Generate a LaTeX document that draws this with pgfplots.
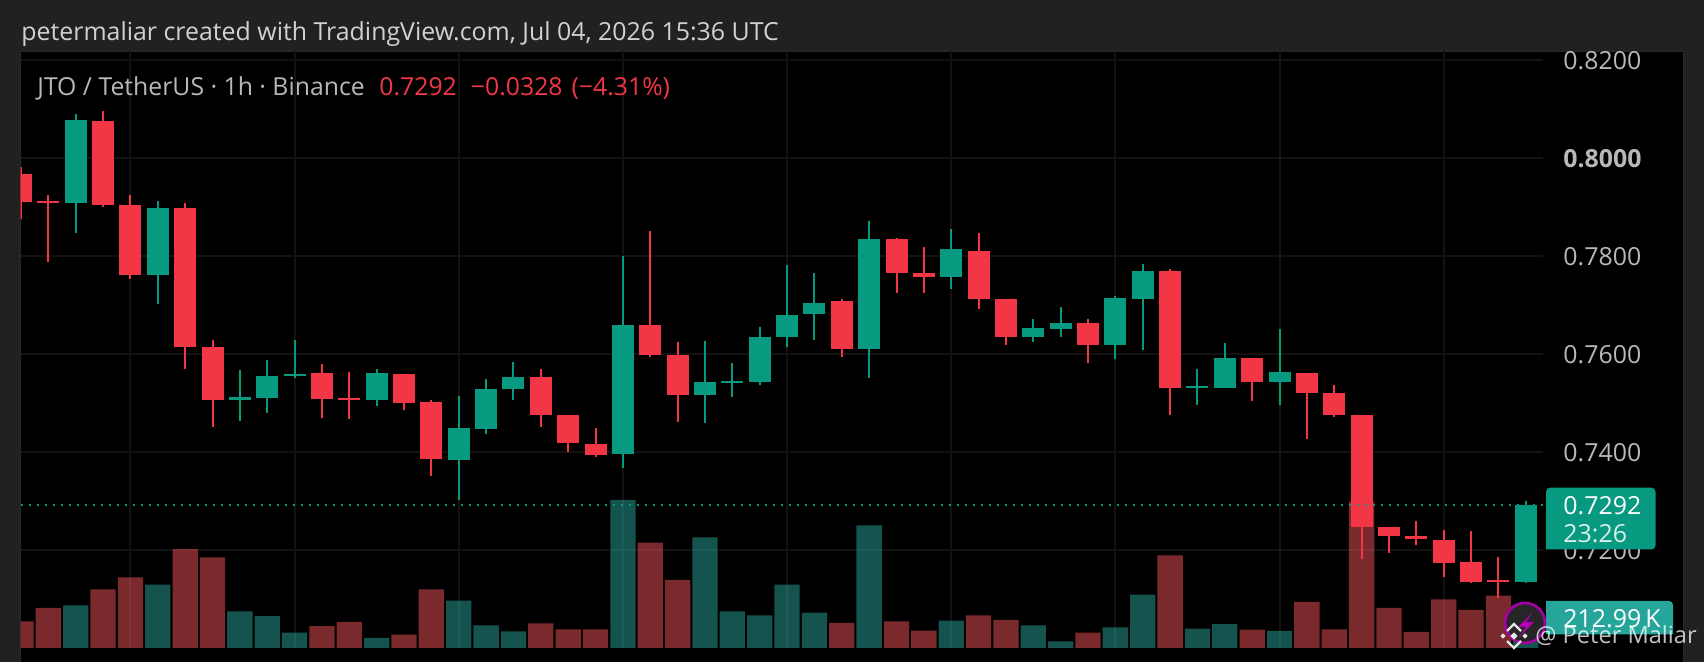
\documentclass[border=0pt]{standalone}
\usepackage{fontspec}
\setmainfont{Open Sans}
\usepackage{pgfplots}
\usepackage{pgfplotstable}
\pgfplotsset{compat=1.18}
\definecolor{tvred}{HTML}{F23645}
\definecolor{tvgreen}{HTML}{089981}
\definecolor{volred}{HTML}{F45458}
\definecolor{volgreen}{HTML}{2AA89C}
\definecolor{framegray}{HTML}{212121}
\definecolor{gridgray}{HTML}{121212}
\definecolor{txtgray}{HTML}{B8B8B8}
\definecolor{badgevol}{HTML}{26A69A}
\pgfplotstableread{
i o h l c v
0 .79661 .79803 .78757 .79097 189
1 .79110 .79246 .77880 .79083 284
3 .80748 .80945 .79001 .79029 417
4 .79029 .79246 .77520 .77615 502
6 .78974 .79069 .75699 .76147 701
7 .76140 .76283 .74516 .75060 644
11 .75604 .75794 .74693 .75073 156
12 .75094 .75637 .74679 .75060 185
14 .75590 .75590 .74863 .75005 95
15 .75019 .75060 .73510 .73864 417
19 .75535 .75699 .74516 .74761 175
20 .74761 .74761 .73999 .74176 133
21 .74163 .74489 .73904 .73945 133
23 .76596 .78498 .75930 .75984 748
24 .75984 .76242 .74611 .75155 483
30 .77085 .77112 .75930 .76106 178
32 .78349 .78362 .77234 .77656 189
33 .77642 .78172 .77234 .77574 123
35 .78104 .78458 .76922 .77126 232
36 .77112 .77112 .76188 .76337 199
39 .76623 .76704 .75821 .76174 109
42 .77683 .77724 .74761 .75304 658
45 .75916 .75916 .75032 .75427 130
47 .75617 .75617 .74272 .75209 327
48 .75209 .75372 .74720 .74747 133
49 .74747 .74747 .71811 .72477 1039
50 .72477 .72477 .71934 .72287 284
51 .72287 .72586 .72110 .72233 114
52 .72206 .72409 .71444 .71743 346
53 .71757 .72382 .71322 .71349 270
54 .71383 .71852 .71023 .71356 372
}\redT
\pgfplotstableread{
i o h l c v
2 .79069 .80891 .78458 .80762 303
5 .77615 .79124 .77017 .78974 450
8 .75060 .75671 .74638 .75114 260
9 .75101 .75875 .74788 .75556 227
10 .75563 .76283 .75508 .75590 109
13 .75060 .75685 .74944 .75604 71
16 .73836 .75134 .73021 .74482 336
17 .74462 .75495 .74366 .75277 161
18 .75291 .75834 .75060 .75522 118
22 .73959 .77996 .73673 .76596 1051
25 .75155 .76256 .74584 .75427 786
26 .75413 .75821 .75128 .75440 260
27 .75427 .76541 .75372 .76337 232
28 .76337 .77805 .76133 .76799 450
29 .76813 .77642 .76283 .77030 251
31 .76106 .78716 .75508 .78335 871
34 .77574 .78553 .77316 .78131 194
37 .76337 .76704 .76249 .76528 161
38 .76514 .76949 .76351 .76636 47
40 .76174 .77180 .75902 .77139 147
41 .77126 .77832 .76079 .77683 379
43 .75311 .75699 .74951 .75338 137
44 .75304 .76215 .75304 .75916 170
46 .75427 .76500 .74965 .75630 121
55 .71349 .72994 .71322 .7292 213
}\greenT
\pgfplotsset{
  chartbox/.style={
    at={(10.35pt,7pt)}, anchor=south west,
    scale only axis, width=761.15pt, height=298.35pt,
    xmin=-0.011, xmax=55.63,
  },
  wick/.style={draw=none, mark=none, forget plot,
    error bars/.cd, y dir=both, y explicit, error mark=none,
    error bar style={color=#1, line width=1pt, solid}},
  body/.style={draw=none, mark=none, forget plot,
    error bars/.cd, y dir=both, y explicit, error mark=none,
    error bar style={color=#1, line width=11pt, solid}},
}
\begin{document}
\begin{tikzpicture}
\path[use as bounding box] (0,0) rectangle (852pt,331pt);
\begin{scope}[x=0.5pt,y=-0.5pt,yshift=331pt]
  \fill[framegray] (0,0) rectangle (1704,662);
  \fill[black] (20.5,51.3) rectangle (1683,662);
  \draw[color=white!16!black,line width=0.5pt] (20.5,662) -- (20.5,51.3) -- (1683,51.3) -- (1683,662);
\end{scope}
% grid and price scale
\begin{axis}[chartbox,
  ymin=0.70004, ymax=0.82169,
  axis line style={draw=none},
  xtick={4,10,16,22,28,34,40,46,52}, xticklabels={},
  ytick={0.72,0.74,0.76,0.78,0.80,0.82},
  yticklabels={0.7200,0.7400,0.7600,0.7800,\textbf{0.8000},0.8200},
  yticklabel pos=right,
  major tick length=0pt,
  yticklabel style={anchor=west, inner sep=0pt, xshift=10pt, yshift=-0.4pt, text=txtgray,
    font=\fontsize{12.45}{14}\selectfont},
  grid=major, major grid style={color=gridgray, line width=1pt},
]
\addplot[draw=none, forget plot] coordinates {(0,0.8)};
\end{axis}
% volume
\begin{axis}[chartbox, ymin=0, ymax=4236, axis lines=none]
\addplot[ybar, bar width=12.65pt, bar shift=0pt, fill=volred, draw=none, fill opacity=0.5] table[x=i,y=v] {\redT};
\addplot[ybar, bar width=12.65pt, bar shift=0pt, fill=volgreen, draw=none, fill opacity=0.5] table[x=i,y=v] {\greenT};
\end{axis}
% candles
\begin{axis}[chartbox, ymin=0.70004, ymax=0.82169, axis lines=none]
\addplot[wick=tvred] table[x=i,y=o,y error plus expr=\thisrow{h}-\thisrow{o},y error minus expr=\thisrow{o}-\thisrow{l}] {\redT};
\addplot[wick=tvgreen] table[x=i,y=o,y error plus expr=\thisrow{h}-\thisrow{o},y error minus expr=\thisrow{o}-\thisrow{l}] {\greenT};
\addplot[body=tvred] table[x=i,y expr=(\thisrow{o}+\thisrow{c})/2,y error plus expr=abs(\thisrow{o}-\thisrow{c})/2,y error minus expr=abs(\thisrow{o}-\thisrow{c})/2] {\redT};
\addplot[body=tvgreen] table[x=i,y expr=(\thisrow{o}+\thisrow{c})/2,y error plus expr=abs(\thisrow{o}-\thisrow{c})/2,y error minus expr=abs(\thisrow{o}-\thisrow{c})/2] {\greenT};
\addplot[tvgreen, line width=1pt, dash pattern=on 1pt off 3pt, forget plot] coordinates {(-0.011,0.7292) (55.63,0.7292)};
\end{axis}
\begin{scope}[x=0.5pt,y=-0.5pt,yshift=331pt]
  % header texts
  \node[anchor=west,inner sep=0pt,text=white!82!black,font=\fontsize{12.45}{14}\selectfont] at (21,34.5)
    {petermaliar created with TradingView.com, Jul 04, 2026 15:36 UTC};
  \node[anchor=west,inner sep=0pt,text=txtgray,font=\fontsize{12.4}{14}\selectfont] at (37,88)
    {JTO / TetherUS · 1h · Binance};
  \node[anchor=west,inner sep=0pt,text=tvred,font=\fontsize{12.4}{14}\selectfont] at (379,88)
    {0.7292\hspace{7pt}−0.0328\hspace{4.5pt}(−4.31\%)};
  % price badge
  \fill[tvgreen,rounded corners=2pt] (1546,487.7) [sharp corners] -- (1546,549.5) [rounded corners=2pt] -- (1655.5,549.5) -- (1655.5,487.7) -- cycle;
  \node[anchor=west,inner sep=0pt,text=white,font=\fontsize{12.45}{14}\selectfont] at (1563,505.5) {0.7292};
  \node[anchor=west,inner sep=0pt,text=white!85!tvgreen,font=\fontsize{12.45}{14}\selectfont] at (1563,533.5) {23:26};
  % volume badge
  \fill[badgevol] (1546,601) -- (1670,601) [rounded corners=2pt] -- (1673,601) [sharp corners] -- (1673,634.3) -- (1546,634.3) -- cycle;
  \node[anchor=west,inner sep=0pt,text=white,font=\fontsize{12.45}{14}\selectfont] at (1563,618.5) {212.99\,K};
  % watermark
  \fill[black!85!white] (1525,623) circle (20);
  \draw[color=violet!70!magenta,line width=1.3pt] (1525,623) circle (20);
  \fill[color=violet!60!magenta] (1533,612) -- (1518,627) -- (1526,627) -- (1519,637) -- (1534,622) -- (1526,622) -- cycle;
  \begin{scope}[shift={(1514,636)}]
    \foreach \dx/\dy/\s in {0/0/3.6,-11/0/2.6,11/0/2.6}{\fill[white!90!black] (\dx-\s,\dy) -- (\dx,\dy-\s) -- (\dx+\s,\dy) -- (\dx,\dy+\s) -- cycle;}
    \draw[white!90!black,line width=1.2pt] (-7,-5) -- (0,-12) -- (7,-5);
    \draw[white!90!black,line width=1.2pt] (-7,5) -- (0,12) -- (7,5);
  \end{scope}
  \node[anchor=west,inner sep=0pt,text=white,opacity=0.75,font=\fontsize{11.8}{13}\selectfont] at (1535,636) {@ Peter Maliar};
\end{scope}
\end{tikzpicture}
\end{document}
